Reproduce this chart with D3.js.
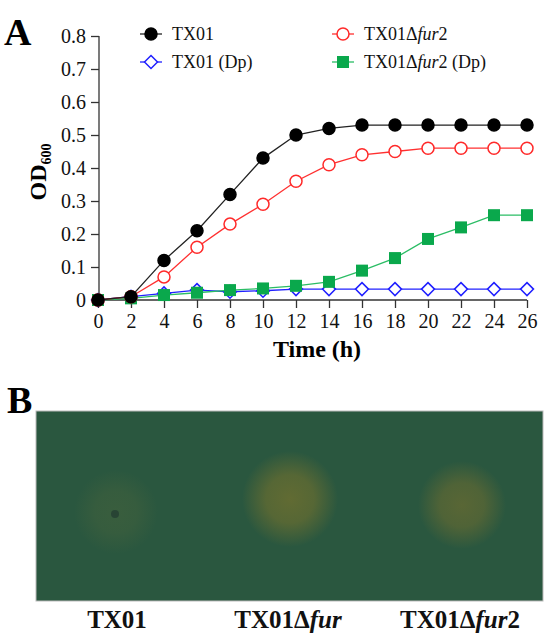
<!DOCTYPE html>
<html lang="en">
<head>
    <meta charset="UTF-8">
    <title>growth curves</title>
    <script src="https://cdn.jsdelivr.net/npm/d3@7"></script>
    <style>
        body { margin: 0; background: #fff; }
        svg { display: block; }
        text { font-family: "Liberation Serif", "Times New Roman", serif; }
    </style>
</head>
<body>
    <script>
        // values
        const hours = [0, 2, 4, 6, 8, 10, 12, 14, 16, 18, 20, 22, 24, 26];
        const tx01 = [0, 0.01, 0.12, 0.21, 0.32, 0.43, 0.50, 0.52, 0.53, 0.53, 0.53, 0.53, 0.53, 0.53];
        const tx01Err = [0, 0, 0, 0, 0, 0, 0, 0, 0.008, 0.01, 0.01, 0.01, 0.012, 0.01];
        const fur2 = [0, 0.01, 0.07, 0.16, 0.23, 0.29, 0.36, 0.41, 0.44, 0.45, 0.46, 0.46, 0.46, 0.46];
        const tx01Dp = [0, 0.01, 0.02, 0.03, 0.025, 0.028, 0.033, 0.033, 0.033, 0.033, 0.033, 0.033, 0.033, 0.033];
        const fur2Dp = [0, 0.005, 0.015, 0.022, 0.03, 0.035, 0.043, 0.055, 0.089, 0.127, 0.185, 0.22, 0.257, 0.257];
        const fur2DpErr = [0, 0, 0, 0, 0, 0, 0.006, 0.008, 0.01, 0.01, 0.012, 0.01, 0.012, 0.012];
        const yTicks = [0, 0.1, 0.2, 0.3, 0.4, 0.5, 0.6, 0.7, 0.8];
        const plateLabels = ["TX01", "TX01Δfur", "TX01Δfur2"];

        const W = 550, H = 641;
        const serif = '"Liberation Serif", "Times New Roman", serif';
        const svg = d3.select('body').append('svg')
            .attr('width', W)
            .attr('height', H);

        const x = d3.scaleLinear().domain([0, 26]).range([98, 527]);
        const y = d3.scaleLinear().domain([0, 0.8]).range([300, 36]);

        // panel letters
        svg.append('text').attr('x', 4).attr('y', 45).attr('font-family', serif)
            .style('font-size', '38px').style('font-weight', 'bold').text('A');
        svg.append('text').attr('x', 7).attr('y', 413).attr('font-family', serif)
            .style('font-size', '38px').style('font-weight', 'bold').text('B');

        // axes
        const yAxis = d3.axisLeft(y).tickValues(yTicks).tickSize(8).tickPadding(5)
            .tickFormat(d => d === 0 ? '0' : d3.format('.1f')(d));
        const gy = svg.append('g').attr('transform', 'translate(99,0)').call(yAxis);

        const xAxis = d3.axisBottom(x).tickValues(hours).tickSize(8).tickPadding(6);
        const gx = svg.append('g').attr('transform', 'translate(0,300)').call(xAxis);

        [gx, gy].forEach(g => {
            g.attr('font-family', serif).attr('font-size', 20);
            g.select('.domain').attr('stroke', '#333').attr('stroke-width', 1.3);
            g.selectAll('.tick line').attr('stroke', '#333').attr('stroke-width', 1.3);
            g.selectAll('.tick text').attr('fill', '#111');
        });
        gx.select('.domain').attr('d', 'M98,0H527');
        gy.select('.domain').attr('d', 'M0,36V300');

        // axis titles
        svg.append('text').attr('x', 317).attr('y', 357).attr('text-anchor', 'middle')
            .attr('font-family', serif)
            .style('font-size', '24px').style('font-weight', 'bold').text('Time (h)');
        const yt = svg.append('text').attr('transform', 'translate(46,172) rotate(-90)')
            .attr('text-anchor', 'middle').attr('font-family', serif)
            .style('font-size', '24px').style('font-weight', 'bold');
        yt.append('tspan').text('OD');
        yt.append('tspan').attr('dy', 5).style('font-size', '14px').text('600');

        const series = [
            { name: 'TX01', vals: tx01, err: tx01Err, color: '#000', line: '#222', shape: 'circle', fill: '#000' },
            { name: 'fur2', vals: fur2, err: null, color: '#ff2a2a', line: '#ff3030', shape: 'circle', fill: '#fff' },
            { name: 'TX01 (Dp)', vals: tx01Dp, err: null, color: '#2020ff', line: '#2020ff', shape: 'diamond', fill: '#fff' },
            { name: 'fur2Dp', vals: fur2Dp, err: fur2DpErr, color: '#0aa84c', line: '#2bbd65', shape: 'square', fill: '#0aa84c' }
        ];

        const line = d3.line().x((d, i) => x(hours[i])).y(d => y(d));

        function marker(g, s, cx, cy) {
            if (s.shape === 'circle') {
                g.append('circle').attr('cx', cx).attr('cy', cy).attr('r', 6)
                    .attr('fill', s.fill).attr('stroke', s.color).attr('stroke-width', 1.5);
            } else if (s.shape === 'diamond') {
                g.append('path').attr('d', `M${cx},${cy - 6.5}L${cx + 6.5},${cy}L${cx},${cy + 6.5}L${cx - 6.5},${cy}Z`)
                    .attr('fill', s.fill).attr('stroke', s.color).attr('stroke-width', 1.5);
            } else {
                g.append('rect').attr('x', cx - 6).attr('y', cy - 6).attr('width', 12).attr('height', 12)
                    .attr('fill', s.fill);
            }
        }

        const plot = svg.append('g');
        // draw order: blue, green, red, black
        [2, 3, 1, 0].forEach(k => {
            const s = series[k];
            const g = plot.append('g');
            g.append('path').datum(s.vals).attr('d', line)
                .attr('fill', 'none').attr('stroke', s.line).attr('stroke-width', 1.3);
            if (s.err) {
                s.vals.forEach((v, i) => {
                    if (!s.err[i]) return;
                    g.append('line').attr('x1', x(hours[i])).attr('x2', x(hours[i]))
                        .attr('y1', y(v - s.err[i])).attr('y2', y(v + s.err[i]))
                        .attr('stroke', '#666').attr('stroke-width', 2);
                });
            }
            s.vals.forEach((v, i) => marker(g, s, x(hours[i]), y(v)));
        });

        // legend
        const legendPos = [[151, 34], [343, 34], [151, 62], [343, 62]];
        [0, 1, 2, 3].forEach((k, j) => {
            const s = series[k];
            const [lx, ly] = legendPos[j];
            const g = svg.append('g');
            g.append('line').attr('x1', lx - 11).attr('x2', lx + 11).attr('y1', ly).attr('y2', ly)
                .attr('stroke', s.line).attr('stroke-width', 1.3);
            marker(g, s, lx, ly);
            const t = g.append('text').attr('x', lx + 21).attr('y', ly + 6)
                .attr('font-family', serif).style('font-size', '18px').attr('fill', '#111');
            if (k === 0 || k === 2) {
                t.text(s.name);
            } else {
                t.append('tspan').text('TX01Δ');
                t.append('tspan').style('font-style', 'italic').text('fur');
                t.append('tspan').text(k === 1 ? '2' : '2 (Dp)');
            }
        });

        // panel B: plate photo approximated with soft halos
        const defs = svg.append('defs');
        const halos = [
            { id: 'h0', cx: 116, cy: 512, r: 42, c: 'rgb(72,100,60)', o: 0.5 },
            { id: 'h1', cx: 290, cy: 499, r: 48, c: 'rgb(100,108,50)', o: 0.95 },
            { id: 'h2', cx: 462, cy: 505, r: 44, c: 'rgb(94,104,52)', o: 0.9 }
        ];
        halos.forEach(h => {
            const gr = defs.append('radialGradient').attr('id', h.id);
            gr.append('stop').attr('offset', '0%').attr('stop-color', h.c).attr('stop-opacity', h.o);
            gr.append('stop').attr('offset', '50%').attr('stop-color', h.c).attr('stop-opacity', h.o * 0.8);
            gr.append('stop').attr('offset', '100%').attr('stop-color', h.c).attr('stop-opacity', 0);
        });
        svg.append('rect').attr('x', 36).attr('y', 411).attr('width', 507).attr('height', 190)
            .attr('fill', 'rgb(42,87,63)').attr('stroke', '#bbb').attr('stroke-width', 1);
        halos.forEach(h => {
            svg.append('circle').attr('cx', h.cx).attr('cy', h.cy).attr('r', h.r)
                .attr('fill', `url(#${h.id})`);
        });
        svg.append('circle').attr('cx', 115).attr('cy', 514).attr('r', 4)
            .attr('fill', 'rgb(30,52,46)').attr('opacity', 0.6);

        const labelX = [117, 288, 460];
        plateLabels.forEach((lab, i) => {
            const t = svg.append('text').attr('x', labelX[i]).attr('y', 628).attr('text-anchor', 'middle')
                .attr('font-family', serif)
                .style('font-size', '25px').style('font-weight', 'bold').attr('fill', '#111');
            if (i === 0) { t.text(lab); return; }
            t.append('tspan').text('TX01Δ');
            t.append('tspan').style('font-style', 'italic').text('fur');
            if (i === 2) t.append('tspan').text('2');
        });
    </script>
</body>
</html>
